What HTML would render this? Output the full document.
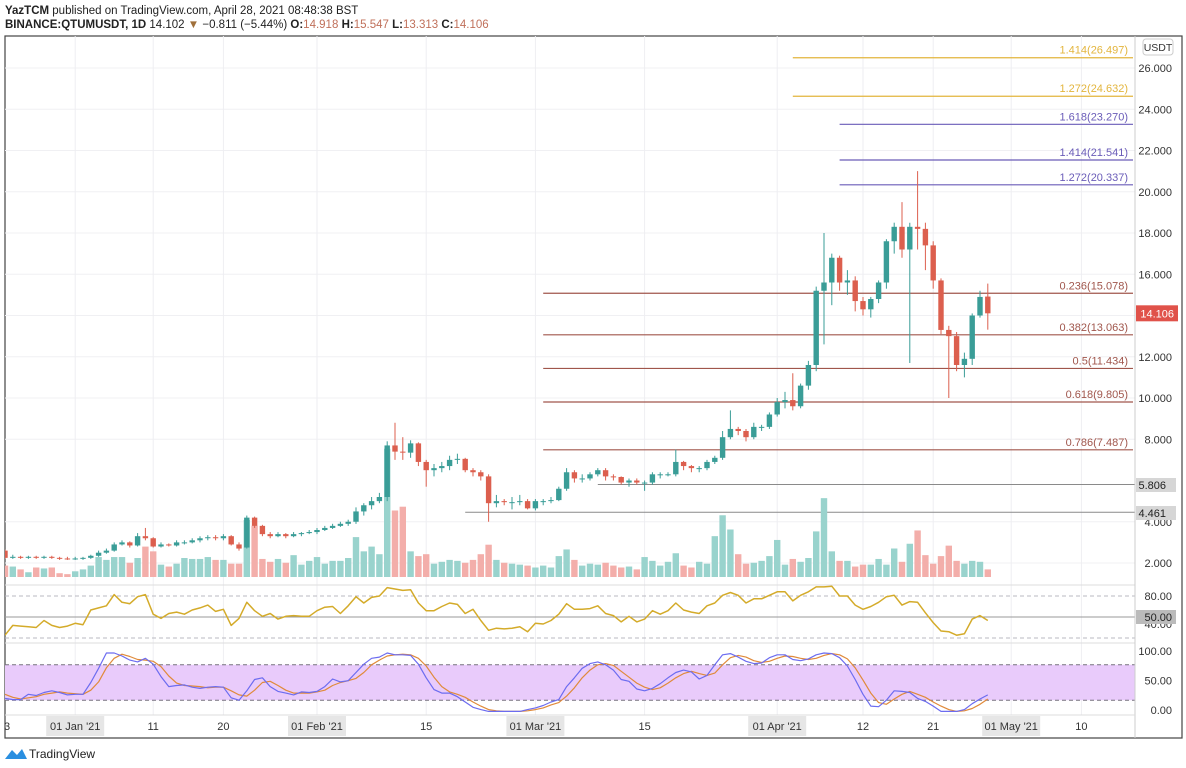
<!DOCTYPE html>
<html><head><meta charset="utf-8">
<style>
html,body{margin:0;padding:0;background:#fff;}
svg{display:block;font-family:"Liberation Sans",sans-serif;}
</style></head>
<body>
<svg id="chart" width="1186" height="768" viewBox="0 0 1186 768">
  <defs><clipPath id="plotclip"><rect x="5" y="36" width="1130" height="680"/></clipPath></defs>
  <text x="5" y="14" font-size="11.5" fill="#222"><tspan font-weight="bold">YazTCM</tspan> published on TradingView.com, April 28, 2021 08:48:38 BST</text>
  <text x="5" y="28" font-size="11.5" fill="#222"><tspan font-weight="bold">BINANCE:QTUMUSDT, 1D</tspan> 14.102 <tspan fill="#a0703a">▼</tspan> −0.811 (−5.44%) <tspan font-weight="bold">O:</tspan><tspan fill="#c0705a">14.918</tspan> <tspan font-weight="bold">H:</tspan><tspan fill="#c0705a">15.547</tspan> <tspan font-weight="bold">L:</tspan><tspan fill="#c0705a">13.313</tspan> <tspan font-weight="bold">C:</tspan><tspan fill="#c0705a">14.106</tspan></text>
  <rect x="5" y="36" width="1177" height="702" fill="none" stroke="#444" stroke-width="1.2"/>
  <g id="grid"></g>
  <g id="fibs" clip-path="url(#plotclip)"></g>
  <g id="vols" clip-path="url(#plotclip)"></g>
  <g id="candles" clip-path="url(#plotclip)"></g>
  <g id="osc" clip-path="url(#plotclip)"></g>
  <g id="axes"></g>
  <g>
    <path d="M5 759 L12 750 L17 755 L22 749 L27 759 Z" fill="#2a8fe0"/>
    <text x="29" y="758" font-size="12" fill="#222">TradingView</text>
  </g>
</svg>
<script>
const opens=[2.6,2.25,2.3,2.25,2.3,2.28,2.3,2.25,2.22,2.2,
 2.22,2.25,2.35,2.5,2.6,2.9,3.0,2.85,3.3,3.2,
 2.8,2.9,2.85,3.0,3.0,3.1,3.2,3.25,3.2,3.3,
 2.9,2.75,4.2,3.8,3.4,3.3,3.4,3.3,3.4,3.45,
 3.5,3.6,3.7,3.8,3.9,4.0,4.5,4.8,5.0,5.2,
 7.7,7.4,7.35,7.8,6.9,6.5,6.6,6.7,7.0,7.05,
 6.5,6.4,6.2,4.9,5.0,4.95,4.95,5.0,4.65,5.0,
 5.0,5.05,5.6,6.4,6.1,6.1,6.3,6.5,6.2,6.17,
 5.9,6.0,5.9,5.9,6.3,6.3,6.3,6.9,6.7,6.6,
 6.6,6.9,7.1,8.1,8.5,8.4,8.1,8.6,8.6,9.2,
 9.8,9.9,9.6,10.6,11.6,15.2,15.6,16.8,15.6,15.7,
 14.7,14.3,14.8,15.6,17.6,18.3,17.2,18.3,18.2,17.4,
 15.7,13.3,13.0,11.6,11.9,14.0,14.918];
const closes=[2.25,2.3,2.25,2.3,2.28,2.3,2.25,2.22,2.2,2.22,
 2.25,2.35,2.5,2.6,2.9,3.0,2.85,3.3,3.2,2.8,
 2.9,2.85,3.0,3.0,3.1,3.2,3.25,3.2,3.3,2.9,
 2.7,4.2,3.8,3.4,3.3,3.4,3.3,3.4,3.45,3.5,
 3.6,3.7,3.8,3.9,4.0,4.5,4.8,5.0,5.2,7.7,
 7.4,7.35,7.8,6.9,6.5,6.6,6.7,7.0,7.05,6.5,
 6.4,6.2,4.9,5.0,4.95,4.95,5.0,4.65,5.0,5.0,
 5.05,5.6,6.4,6.1,6.1,6.3,6.5,6.2,6.17,5.9,
 6.0,5.9,5.9,6.3,6.3,6.3,6.9,6.7,6.6,6.6,
 6.9,7.1,8.1,8.5,8.4,8.1,8.6,8.6,9.2,9.8,
 9.9,9.6,10.6,11.6,15.2,15.6,16.8,15.6,15.7,14.7,
 14.3,14.8,15.6,17.6,18.3,17.2,18.3,18.2,17.4,15.7,
 13.3,13.0,11.6,11.9,14.0,14.9,14.106];
const highs=[2.65,2.4,2.35,2.35,2.35,2.35,2.35,2.3,2.3,2.3,
 2.3,2.4,2.6,2.7,3.0,3.1,3.05,3.45,3.7,3.25,
 3.0,2.95,3.1,3.1,3.2,3.3,3.35,3.35,3.4,3.35,
 3.0,4.3,4.25,3.85,3.5,3.5,3.45,3.5,3.5,3.6,
 3.7,3.8,3.9,4.0,4.1,4.7,4.9,5.2,5.4,7.9,
 8.8,8.1,7.95,7.85,7.0,6.8,6.9,7.2,7.3,7.1,
 6.6,6.5,6.3,5.3,5.1,5.2,5.3,5.1,5.1,5.1,
 5.2,5.7,6.6,6.5,6.3,6.4,6.6,6.6,6.3,6.2,
 6.1,6.1,6.0,6.4,6.4,6.4,7.5,6.95,6.75,6.7,
 7.0,7.2,8.4,9.4,8.6,8.5,8.8,8.7,9.3,10.0,
 10.3,11.2,10.7,11.8,15.4,18.0,17.0,16.9,16.2,15.9,
 14.9,14.9,15.7,17.7,18.5,19.5,18.5,21.0,18.5,17.6,
 15.8,13.5,13.2,12.2,14.1,15.2,15.547];
const lows=[2.2,2.2,2.2,2.2,2.2,2.2,2.2,2.15,2.15,2.15,
 2.15,2.2,2.3,2.45,2.55,2.85,2.75,2.8,3.1,2.75,
 2.75,2.8,2.8,2.9,2.95,3.0,3.1,3.1,3.1,2.85,
 2.6,2.7,3.7,3.3,3.2,3.25,3.2,3.25,3.3,3.4,
 3.4,3.55,3.65,3.75,3.8,3.9,4.3,4.6,4.9,5.0,
 7.0,7.0,7.1,6.7,5.7,6.2,6.4,6.5,6.8,6.4,
 6.2,6.0,4.0,4.7,4.8,4.6,4.8,4.6,4.55,4.8,
 4.9,5.0,5.5,5.9,5.9,6.0,6.2,6.0,6.0,5.8,
 5.7,5.8,5.5,5.8,6.1,6.2,6.2,6.5,6.4,6.4,
 6.5,6.8,7.0,8.0,8.2,7.9,8.0,8.4,8.5,9.1,
 9.5,9.4,9.5,10.4,11.3,12.6,14.5,15.2,15.0,14.2,
 14.0,13.9,14.6,15.3,17.0,16.8,11.7,17.2,16.2,15.3,
 13.1,10.0,11.3,11.0,11.6,13.9,13.313];
const volumes=[12,11,8,5,10,9,10,4,3,6,
 8,12,21,18,21,21,15,20,32,27,
 13,11,14,20,19,19,21,18,18,14,
 14,60,54,19,16,19,15,23,13,17,
 21,14,17,17,20,42,27,32,24,135,
 70,74,27,22,24,14,16,18,17,15,
 18,24,34,18,15,14,13,12,10,12,
 10,22,29,18,12,14,13,15,12,10,
 11,8,21,17,12,16,25,12,10,16,
 14,43,65,50,24,14,15,17,22,39,
 13,19,16,20,48,83,27,17,17,11,
 13,13,19,13,30,16,35,49,23,14,
 22,33,17,14,17,16,8];
const rsi=[24,38,37,36,35,45,38,35,37,41,
 39,60,63,66,82,71,69,79,82,54,
 48,55,57,54,60,63,67,58,61,38,
 48,71,59,51,55,47,51,52,51,51,
 59,64,65,55,66,79,70,78,80,92,
 90,88,89,70,59,59,65,70,68,55,
 61,45,31,34,33,34,36,29,41,40,
 45,54,69,61,61,62,66,55,52,43,
 51,43,47,59,54,59,70,60,57,55,
 66,70,81,85,81,70,76,76,81,86,
 86,73,81,86,93,93,94,80,80,67,
 61,65,71,79,81,67,72,71,56,42,
 30,29,24,26,47,52,45];
const stochK=[23,21,21,30,28,33,36,33,29,30,
 30,50,74,100,100,95,88,85,91,81,
 60,43,45,46,42,40,42,43,42,24,
 20,36,55,58,43,35,32,29,34,33,
 35,43,56,51,53,67,81,91,93,100,
 97,97,96,81,58,38,32,32,26,17,
 8,4,1,1,1,1,1,4,7,11,
 17,21,43,58,74,82,85,80,71,55,
 52,39,36,40,48,58,67,71,68,56,
 62,80,97,99,93,86,82,83,92,97,
 97,89,87,90,97,100,99,92,78,55,
 30,10,9,20,36,35,33,23,18,10,
 1,1,1,4,14,22,29];
const stochD=[30,25,22,24,26,30,32,34,32,31,
 30,37,51,75,91,98,94,89,88,86,
 77,61,49,45,44,43,41,42,42,36,
 29,27,37,50,52,45,37,32,32,32,
 34,37,45,50,53,57,67,80,88,95,
 97,98,97,91,78,59,43,34,30,25,
 17,10,4,2,1,1,1,2,4,7,
 12,16,27,41,58,71,80,82,79,69,
 59,49,42,38,41,49,58,65,69,65,
 62,66,80,92,96,93,87,84,86,91,
 95,94,91,89,91,96,99,97,90,75,
 54,32,16,13,22,30,35,30,25,17,
 10,4,1,2,6,13,22];
const priceTicks=[2,4,8,10,12,14,16,18,20,22,24,26];
const timeLabels=["3","01 Jan '21","11","20","01 Feb '21","15","01 Mar '21","15","01 Apr '21","12","21","01 May '21","10"];
const timeIdx=[-1.5,9,19,28,40,54,68,82,99,110,119,129,138];
const fibPrices=[26.497,24.632,23.270,21.541,20.337,15.078,13.063,11.434,9.805,7.487];
const fibNames=["1.414","1.272","1.618","1.414","1.272","0.236","0.382","0.5","0.618","0.786"];
const fibStartIdx=[101,101,107,107,107,69,69,69,69,69];
const hLevels=[5.806,4.461];
const hStartIdx=[76,59];

const NS="http://www.w3.org/2000/svg";
function mk(tag,attrs,parent,txt){const e=document.createElementNS(NS,tag);for(const k in attrs)e.setAttribute(k,attrs[k]);if(txt!==undefined)e.textContent=txt;parent.appendChild(e);return e;}
const X0=5,STEP=7.8,PR=1135;
const xOf=i=>X0+i*STEP;
const yP=p=>563-(p-2)*20.625;
const yV=v=>577-v*0.95;
const yR=v=>617-(v-50)*0.7;
const yS=v=>712-v*0.59;
const UP="#3a9d97",DN="#dc5f4e",UPV="#99d3cd",DNV="#f3aeaa";

const grid=document.getElementById('grid');
priceTicks.forEach(p=>{const l=mk('line',{x1:5,x2:PR,y1:yP(p),y2:yP(p),stroke:'#f0f0f3','stroke-width':1},grid);
});
timeIdx.forEach(i=>{const x=xOf(i);if(x<6||x>PR)return;const l=mk('line',{x1:x,x2:x,y1:36,y2:715,stroke:'#eeeef2','stroke-width':1},grid);
});

// fib lines
const fg=document.getElementById('fibs');
fibPrices.forEach((p,k)=>{const col=k<2?'#e3b53d':(k<5?'#6a5cb8':'#a0564c');
const l=mk('line',{x1:xOf(fibStartIdx[k]),x2:1133,y1:yP(p),y2:yP(p),stroke:col,'stroke-width':1.2},fg);

const t=mk('text',{x:1128,y:yP(p)-4,'text-anchor':'end','font-size':11,fill:col},fg,fibNames[k]+'('+p.toFixed(3)+')');
});
hLevels.forEach((p,k)=>{const l=mk('line',{x1:xOf(hStartIdx[k]),x2:PR,y1:yP(p),y2:yP(p),stroke:'#8a8a8a','stroke-width':1},fg);
});

// volumes
const vg=document.getElementById('vols');
volumes.forEach((v,i)=>{const up=closes[i]>=opens[i];const r=mk('rect',{x:xOf(i)-3.2,y:yV(v),width:6.4,height:577-yV(v),fill:up?UPV:DNV},vg);
});

// candles
const cg=document.getElementById('candles');
closes.forEach((c,i)=>{const o=opens[i],up=c>=o,col=up?UP:DN,x=xOf(i);
const g=mk('g',{},cg);
mk('line',{x1:x,x2:x,y1:yP(highs[i]),y2:yP(lows[i]),stroke:col,'stroke-width':1},g);
const top=yP(Math.max(o,c)),bot=yP(Math.min(o,c));
mk('rect',{x:x-2.7,y:top,width:5.4,height:Math.max(1,bot-top),fill:col},g);});

// oscillators
const og=document.getElementById('osc');
[[585,'#999',0],[643,'#999',0]].forEach(a=>{const l=mk('line',{x1:5,x2:1182,y1:a[0],y2:a[0],stroke:'#ddd','stroke-width':1},og);});
[[80,'4 3'],[20,'4 3']].forEach(a=>{const l=mk('line',{x1:5,x2:PR,y1:yR(a[0]),y2:yR(a[0]),stroke:'#b8b8c0','stroke-dasharray':a[1],'stroke-width':1},og);});
{const l=mk('line',{x1:5,x2:PR,y1:yR(50),y2:yR(50),stroke:'#999','stroke-width':1},og);}
{const r=mk('rect',{x:5,y:yS(80),width:PR-5,height:yS(20)-yS(80),fill:'#e9cbfb'},og);}
[80,20].forEach(v=>{const l=mk('line',{x1:5,x2:PR,y1:yS(v),y2:yS(v),stroke:'#77707f','stroke-dasharray':'4 3','stroke-width':1},og);});
function poly(arr,fy,col,w,name){const pts=arr.map((v,i)=>xOf(i).toFixed(1)+','+fy(v).toFixed(1)).join(' ');
const p=mk('polyline',{points:pts,fill:'none',stroke:col,'stroke-width':w,'stroke-linejoin':'round'},og);
}
poly(rsi,yR,'#d4ab2a',1.5,'rsi-line');
poly(stochD,yS,'#e08a3a',1.2,'stoch-d-line');
poly(stochK,yS,'#6c6cf0',1.2,'stoch-k-line');

// axes
const ax=document.getElementById('axes');
{const l=mk('line',{x1:PR,x2:PR,y1:36,y2:738,stroke:'#ccc','stroke-width':1},ax);}
{const l=mk('line',{x1:5,x2:PR,y1:715,y2:715,stroke:'#ddd','stroke-width':1},ax);}
priceTicks.forEach(p=>{const t=mk('text',{x:1172,y:yP(p)+4,'text-anchor':'end','font-size':11,fill:'#333'},ax,p.toFixed(3));
});
{const g=mk('g',{},ax);
mk('rect',{x:1143,y:39,width:30,height:16,rx:3,fill:'#fff',stroke:'#ccc'},g);mk('text',{x:1158,y:51,'text-anchor':'middle','font-size':10.5,fill:'#333'},g,'USDT');}
[[5.806,485],[4.461,513]].forEach(a=>{const g=mk('g',{},ax);
mk('rect',{x:1136,y:a[1]-7,width:40,height:14,fill:'#d6d6d6'},g);mk('text',{x:1166,y:a[1]+4,'text-anchor':'end','font-size':11,fill:'#222'},g,a[0].toFixed(3));});
{const g=mk('g',{},ax);
const y=yP(closes[closes.length-1]);mk('rect',{x:1136,y:y-8,width:42,height:16,fill:'#e0524a'},g);
mk('text',{x:1174,y:y+4,'text-anchor':'end','font-size':11,fill:'#fff'},g,closes[closes.length-1].toFixed(3));}
[[80,'80.00'],[40,'40.00']].forEach(a=>{const t=mk('text',{x:1172,y:yR(a[0])+4,'text-anchor':'end','font-size':11,fill:'#333'},ax,a[1]);});
{const g=mk('g',{},ax);
mk('rect',{x:1136,y:yR(50)-7,width:40,height:14,fill:'#bbb'},g);mk('text',{x:1172,y:yR(50)+4,'text-anchor':'end','font-size':11,fill:'#222'},g,'50.00');}
[[100,'100.00'],[50,'50.00'],[0,'0.00']].forEach(a=>{const t=mk('text',{x:1172,y:yS(a[0])+2,'text-anchor':'end','font-size':11,fill:'#333'},ax,a[1]);});
timeLabels.forEach((s,k)=>{const x=xOf(timeIdx[k]);const bold=s.indexOf("'")>0;
if(bold){const r=mk('rect',{x:x-29,y:716,width:58,height:20,fill:'#e6e6e6'},ax);}
const t=mk('text',{x:Math.max(x,7),y:730,'text-anchor':'middle','font-size':11,fill:'#333'},ax,s);
});
</script>
</body></html>
